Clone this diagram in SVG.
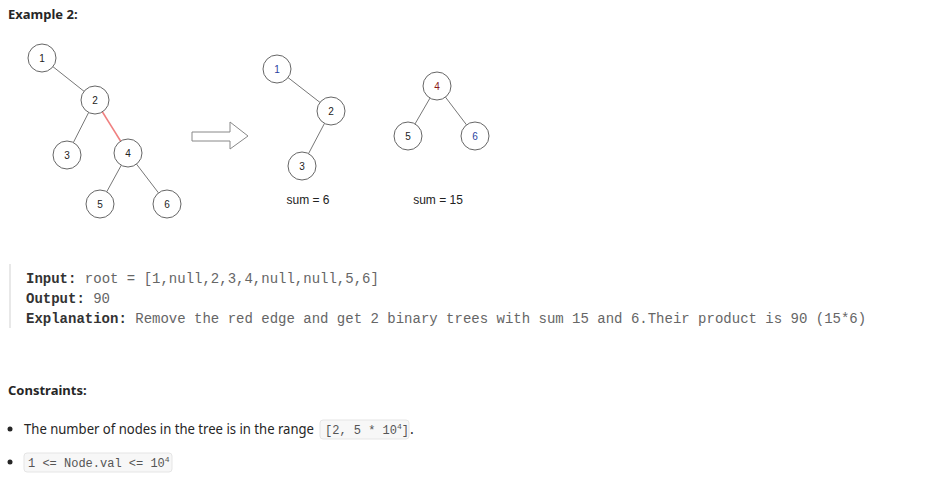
<svg xmlns="http://www.w3.org/2000/svg" width="939" height="483" viewBox="0 0 939 483">
<style>
.n circle{fill:#fff;stroke:#666;stroke-width:1}
.n text{font:10px "Liberation Sans",Arial,sans-serif;text-anchor:middle;fill:#222}
.e line{stroke:#777;stroke-width:1}
.m{font:14px "Liberation Mono",monospace;fill:#666}
.mb{font:bold 14px "Liberation Mono",monospace;fill:#333}
.s{font:14px "Noto Sans","Liberation Sans",sans-serif;fill:#262626}
.c{fill:#f7f7f7;stroke:#e5e5e5}
.cm{font:12px "Liberation Mono",monospace;fill:#555}
</style>
<rect width="939" height="483" fill="#fff"/>
<text x="8" y="19" style="font:bold 13px 'Noto Sans','Liberation Sans',sans-serif" fill="#262626">Example 2:</text>
<g class="e" id="edges">
<line x1="42" y1="58" x2="95" y2="100"/>
<line x1="95" y1="100" x2="67" y2="155"/>
<line x1="95" y1="100" x2="128" y2="153" style="stroke:#f08080;stroke-width:1.5"/>
<line x1="128" y1="153" x2="100" y2="204"/>
<line x1="128" y1="153" x2="167" y2="204"/>
<line x1="277" y1="69" x2="331" y2="111"/>
<line x1="331" y1="111" x2="302" y2="166"/>
<line x1="437" y1="86" x2="408" y2="136"/>
<line x1="437" y1="86" x2="475" y2="136"/>
</g>
<g id="arrow"><path d="M192,132 H230 V122 L248,136 L230,149 V141 H192 Z" fill="#fff" stroke="#888"/></g>
<g class="n" id="a1"><circle cx="42" cy="58" r="14"/><text x="42" y="62" fill="#b22">1</text></g>
<g class="n" id="a2"><circle cx="95" cy="100" r="14"/><text x="95" y="104">2</text></g>
<g class="n" id="a3"><circle cx="67" cy="155" r="14"/><text x="67" y="159">3</text></g>
<g class="n" id="a4"><circle cx="128" cy="153" r="14"/><text x="128" y="157">4</text></g>
<g class="n" id="a5"><circle cx="100" cy="204" r="14"/><text x="100" y="208">5</text></g>
<g class="n" id="a6"><circle cx="167" cy="204" r="14"/><text x="167" y="208">6</text></g>
<g class="n" id="b1"><circle cx="277" cy="69" r="14"/><text x="277" y="73" style="fill:#2a3fa0">1</text></g>
<g class="n" id="b2"><circle cx="331" cy="111" r="14"/><text x="331" y="115">2</text></g>
<g class="n" id="b3"><circle cx="302" cy="166" r="14"/><text x="302" y="170">3</text></g>
<g class="n" id="b4"><circle cx="437" cy="86" r="14"/><text x="437" y="90" style="fill:#8b1a1a">4</text></g>
<g class="n" id="b5"><circle cx="408" cy="136" r="14"/><text x="408" y="140">5</text></g>
<g class="n" id="b6"><circle cx="475" cy="136" r="14"/><text x="475" y="140" style="fill:#2a3fa0">6</text></g>
<text x="308" y="204" text-anchor="middle" style="font:12px 'Liberation Sans',Arial,sans-serif" fill="#222">sum = 6</text>
<text x="438" y="204" text-anchor="middle" style="font:12px 'Liberation Sans',Arial,sans-serif" fill="#222">sum = 15</text>
<rect x="9" y="264" width="2" height="64" fill="#e8e8e8"/>
<text x="26" y="283"><tspan class="mb">Input:</tspan><tspan class="m"> root = [1,null,2,3,4,null,null,5,6]</tspan></text>
<text x="26" y="303"><tspan class="mb">Output:</tspan><tspan class="m"> 90</tspan></text>
<text x="26" y="323"><tspan class="mb">Explanation:</tspan><tspan class="m"> Remove the red edge and get 2 binary trees with sum 15 and 6.Their product is 90 (15*6)</tspan></text>
<text x="8" y="395" style="font:bold 13px 'Noto Sans','Liberation Sans',sans-serif" fill="#262626">Constraints:</text>
<circle cx="10" cy="429" r="2.5" fill="#262626"/>
<text x="24" y="434" class="s" textLength="290" lengthAdjust="spacingAndGlyphs">The number of nodes in the tree is in the range</text>
<rect x="320" y="420" width="89" height="19" rx="3" class="c"/>
<text x="325" y="434" class="cm">[2, 5 * 10<tspan dy="-5" font-size="8">4</tspan><tspan dy="5">]</tspan></text>
<text x="410" y="434" class="s">.</text>
<circle cx="10" cy="462" r="2.5" fill="#262626"/>
<rect x="24" y="453" width="148" height="19" rx="3" class="c"/>
<text x="28" y="467" class="cm">1 &lt;= Node.val &lt;= 10<tspan dy="-5" font-size="8">4</tspan></text>
</svg>
